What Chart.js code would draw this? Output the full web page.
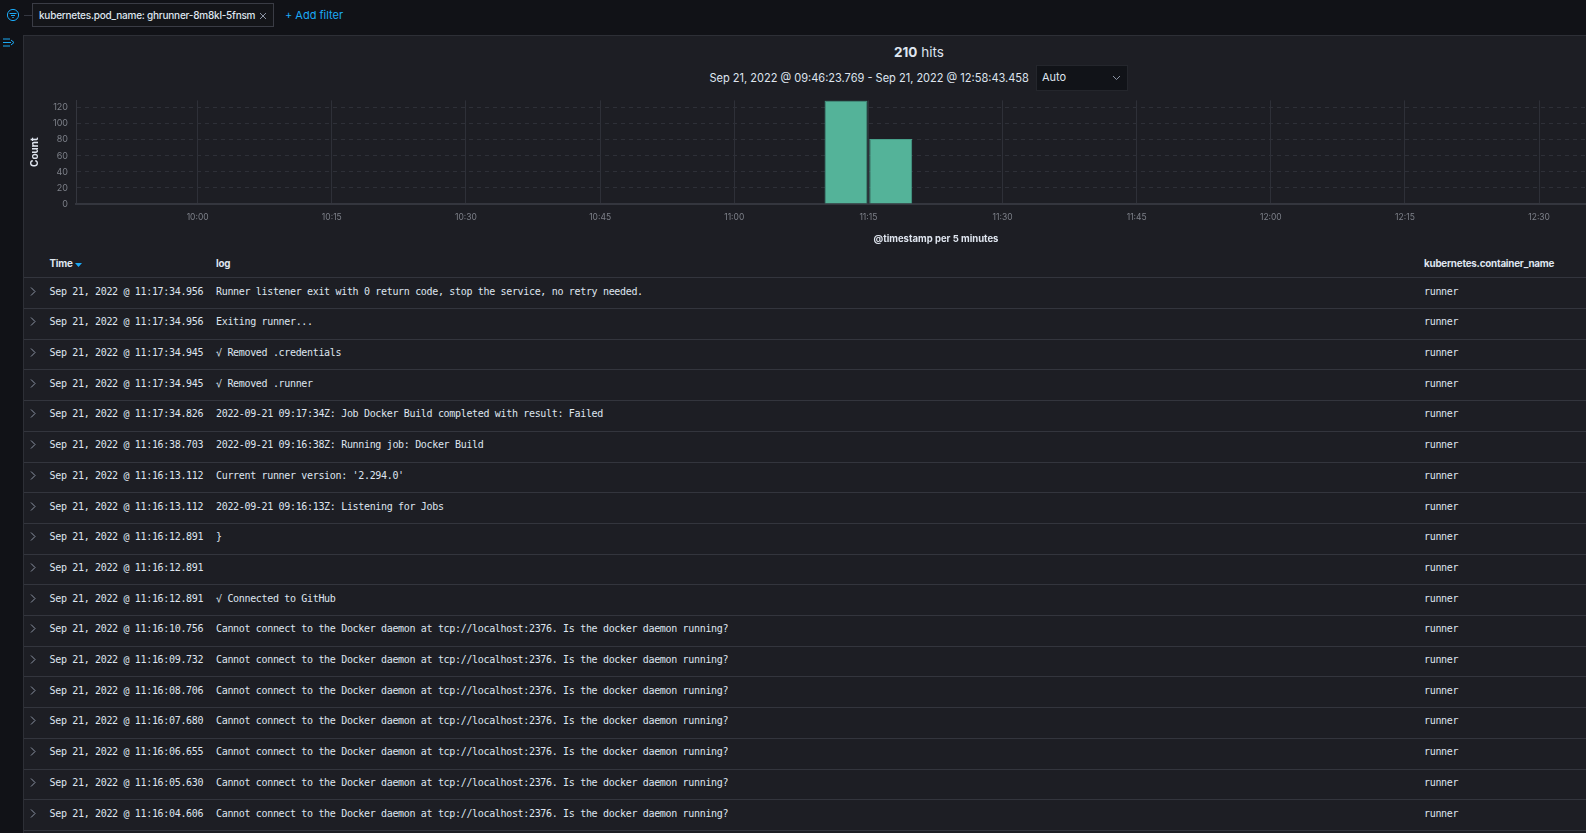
<!DOCTYPE html>
<html><head><meta charset="utf-8">
<script src="https://cdn.jsdelivr.net/npm/chart.js@4"></script>
<style>
html,body{margin:0;padding:0;width:1586px;height:833px;overflow:hidden;background:#111217;font-family:Inter,"Noto Sans",sans-serif;}
.abs{position:absolute;white-space:nowrap;}
#panel{position:absolute;left:23px;top:35px;width:1563px;height:798px;background:#1d1e24;border-left:1px solid #2d2f36;border-top:1px solid #2d2f36;box-sizing:border-box;}
#chartBox{position:absolute;left:24px;top:87px;width:1772px;height:160px;}
.line{position:absolute;left:24px;width:1562px;height:1px;background:#33353d;}
.mono{font-family:"DejaVu Sans Mono",monospace;font-size:10px;letter-spacing:-0.33px;color:#dfe5ef;line-height:14px;}
.head{font-size:9.800px;font-weight:700;color:#dfe5ef;line-height:14px;letter-spacing:-0.2px;}
</style></head><body>
<div id="panel"></div>
<svg class="abs" style="left:6px;top:8px" width="16" height="16" viewBox="0 0 16 16" fill="none" stroke="#1ba9f5" stroke-width="1"><circle cx="7" cy="7" r="5.6"/><path d="M3.5 5.5h7M5 7.5h4M6.3 9.5h1.4"/></svg>
<svg class="abs" style="left:2px;top:37px" width="14" height="12" viewBox="0 0 14 12" fill="none" stroke="#1ba9f5" stroke-width="1"><path d="M1 2h7M1 5.500h8M1 9h7M9 3l3 2.500-3 2.500"/></svg>
<div class="abs" style="left:24px;top:15px;width:8px;height:1px;background:#343741"></div>
<div class="abs" style="left:32px;top:3px;width:242px;height:24px;box-sizing:border-box;border:1px solid #3a3c45;background:#141519"></div>
<div class="abs" style="left:39px;top:8px;font-size:10px;letter-spacing:-0.22px;font-weight:500;color:#dfe5ef;line-height:14px">kubernetes.pod_name: ghrunner-8m8kl-5fnsm</div>
<svg class="abs" style="left:259px;top:12px" width="8" height="8" viewBox="0 0 8 8" stroke="#98a2b3" stroke-width="0.9"><path d="M1 1l6 6M7 1l-6 6"/></svg>
<div class="abs" style="left:285px;top:8px;font-size:11px;color:#1ba9f5;line-height:14px">+ Add filter</div>

<div class="abs" id="hits" style="left:819px;width:200px;text-align:center;top:44px;font-size:13.500px;color:#dfe5ef;line-height:17px"><b>210</b> hits</div>
<div class="abs" id="range" style="left:709.500px;top:71px;font-size:11.020px;color:#dfe5ef;line-height:14px"></div>
<div class="abs" style="left:1036px;top:65px;width:92px;height:26px;box-sizing:border-box;border:1px solid #24262c;background:#111318"></div>
<div class="abs" style="left:1042px;top:70px;font-size:11px;color:#dfe5ef;line-height:14px">Auto</div>
<svg class="abs" style="left:1112px;top:75px" width="9" height="6" viewBox="0 0 9 6" fill="none" stroke="#98a2b3" stroke-width="0.9"><path d="M1 1l3.500 3.500L8 1"/></svg>

<div id="chartBox"><canvas id="c"></canvas></div>

<div class="abs head" style="left:49.500px;top:257px">Time</div>
<svg class="abs" style="left:75px;top:263px" width="7" height="4"><path d="M0 0h7L3.500 4z" fill="#1ba9f5"/></svg>
<div class="abs head" style="left:216px;top:257px">log</div>
<div class="abs head" style="left:1424px;top:257px">kubernetes.container_name</div>
<div id="rows"></div>

<script>
// ---- histogram data ----
const binStarts = ['11:10', '11:15'];
const binCounts = [129, 81];
const binMinutes = 5;
const tickLabels = ['10:00','10:15','10:30','10:45','11:00','11:15','11:30','11:45','12:00','12:15','12:30','12:45'];
const yTicks = [0, 20, 40, 60, 80, 100, 120];
const yMax = 129;
const xStart = '09:46:23.769';
const xEnd = '12:58:43.458';
const rangeText = 'Sep 21, 2022 @ 09:46:23.769 - Sep 21, 2022 @ 12:58:43.458';
const xTitle = '@timestamp per 5 minutes';
const yTitle = 'Count';

// ---- table data ----
const rowTimes = [
 'Sep 21, 2022 @ 11:17:34.956','Sep 21, 2022 @ 11:17:34.956','Sep 21, 2022 @ 11:17:34.945','Sep 21, 2022 @ 11:17:34.945',
 'Sep 21, 2022 @ 11:17:34.826','Sep 21, 2022 @ 11:16:38.703','Sep 21, 2022 @ 11:16:13.112','Sep 21, 2022 @ 11:16:13.112',
 'Sep 21, 2022 @ 11:16:12.891','Sep 21, 2022 @ 11:16:12.891','Sep 21, 2022 @ 11:16:12.891','Sep 21, 2022 @ 11:16:10.756',
 'Sep 21, 2022 @ 11:16:09.732','Sep 21, 2022 @ 11:16:08.706','Sep 21, 2022 @ 11:16:07.680','Sep 21, 2022 @ 11:16:06.655',
 'Sep 21, 2022 @ 11:16:05.630','Sep 21, 2022 @ 11:16:04.606'];
const dockerMsg = 'Cannot connect to the Docker daemon at tcp://localhost:2376. Is the docker daemon running?';
const rowLogs = [
 'Runner listener exit with 0 return code, stop the service, no retry needed.','Exiting runner...',
 '√ Removed .credentials','√ Removed .runner','2022-09-21 09:17:34Z: Job Docker Build completed with result: Failed',
 '2022-09-21 09:16:38Z: Running job: Docker Build',"Current runner version: '2.294.0'",
 '2022-09-21 09:16:13Z: Listening for Jobs','}','','√ Connected to GitHub',
 dockerMsg,dockerMsg,dockerMsg,dockerMsg,dockerMsg,dockerMsg,dockerMsg];
const rowContainer = 'runner';

document.getElementById('range').textContent = rangeText;

const toMin = s => { const p = s.split(':').map(Number); return p[0]*60 + p[1] + (p[2]||0)/60; };

// table rows
const rowsEl = document.getElementById('rows');
const rowTop = 277.3, rowH = 30.7;
let html = `<div class="line" style="top:${Math.round(rowTop)}px"></div>`;
rowTimes.forEach((t,i)=>{
  const y = rowTop + i*rowH, mid = Math.floor(y + rowH/2 - 7.5);
  html += `<svg class="abs" style="left:30px;top:${mid+2}px" width="6" height="9" viewBox="0 0 6 9" fill="none" stroke="#98a2b3" stroke-width="0.9"><path d="M1 .5l4 4-4 4"/></svg>`;
  html += `<div class="abs mono" style="left:49.500px;top:${mid}px">${t}</div>`;
  html += `<div class="abs mono" style="left:216px;top:${mid}px">${rowLogs[i]}</div>`;
  html += `<div class="abs mono" style="left:1424px;top:${mid}px">${rowContainer}</div>`;
  html += `<div class="line" style="top:${Math.round(y+rowH)}px"></div>`;
});
rowsEl.innerHTML = html;

// chart
Chart.defaults.font.family = 'Inter, "Noto Sans", sans-serif';
const points = binStarts.map((s,i)=>({x: toMin(s) + binMinutes/2, y: binCounts[i]}));
new Chart(document.getElementById('c'), {
  type: 'bar',
  data: { datasets: [{ data: points, backgroundColor: '#54b399', borderColor: '#47a08a', borderWidth: 1,
                       barPercentage: 0.96, categoryPercentage: 1 }] },
  options: {
    responsive: true, maintainAspectRatio: false, animation: false,
    layout: { padding: { top: 4, left: 0, right: 0, bottom: 0 } },
    plugins: { legend: { display: false }, tooltip: { enabled: false } },
    scales: {
      x: { type: 'linear', offset: false, min: toMin(xStart), max: toMin(xEnd),
        afterFit: s => { s.height = 43; },
        afterBuildTicks: s => { s.ticks = tickLabels.map(l => ({ value: toMin(l) })); },
        grid: { offset: false, color: '#2e3038', lineWidth: 1, drawTicks: false },
        border: { color: '#34363e', width: 2 },
        ticks: { color: '#7d8089', font: { size: 8.5 }, padding: 8, maxRotation: 0, autoSkip: false,
          callback: v => tickLabels.find(l => toMin(l) === v) || '' },
        title: { display: true, text: xTitle, color: '#dfe5ef', font: { size: 9.5, weight: '700' }, padding: { top: 0, bottom: 2 } }
      },
      y: { min: 0, max: yMax,
        afterFit: s => { s.width = 52; },
        afterBuildTicks: s => { s.ticks = yTicks.map(v => ({ value: v })); },
        grid: { color: '#2e3038', lineWidth: 1, drawTicks: false },
        border: { color: '#34363e', width: 1, dash: [4, 4] },
        ticks: { color: '#7d8089', font: { size: 9 }, padding: 8, autoSkip: false },
        title: { display: true, text: yTitle, color: '#dfe5ef', font: { size: 10, weight: '700' }, padding: { top: 5, bottom: 0 } }
      }
    }
  }
});
</script>
</body></html>
